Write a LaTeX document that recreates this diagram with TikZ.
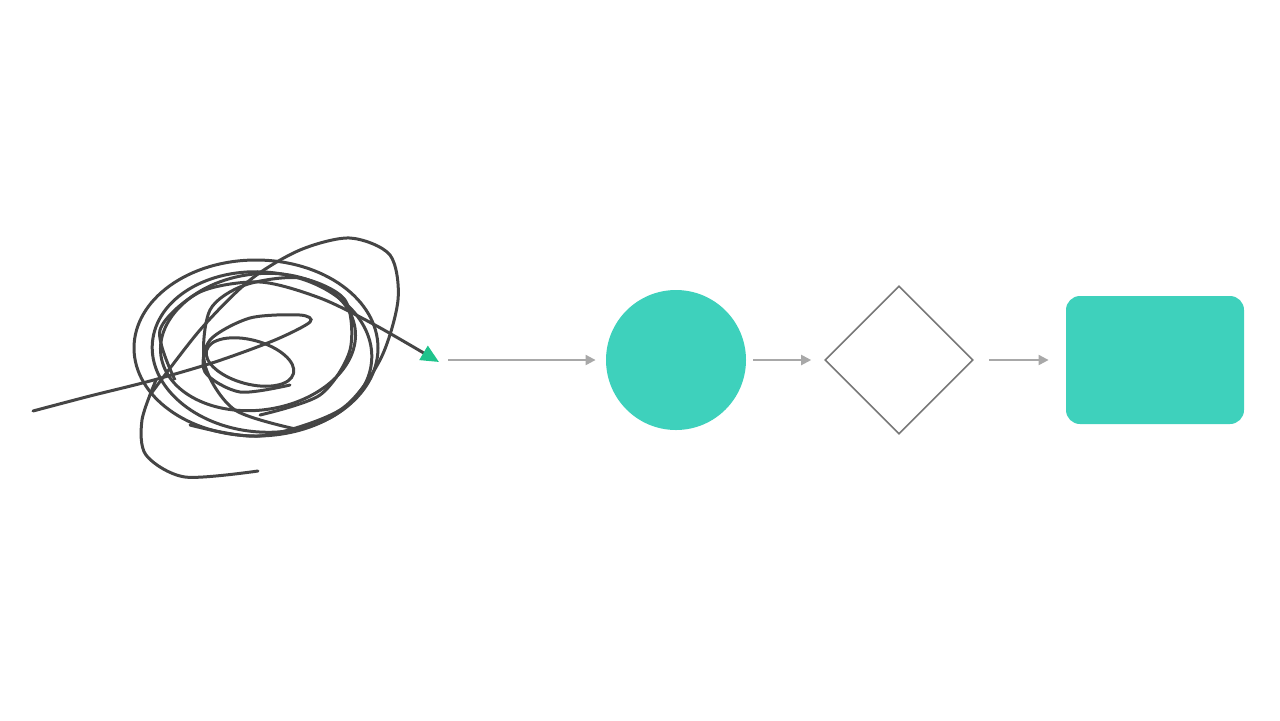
\documentclass[tikz,border=0pt]{standalone}
\usetikzlibrary{arrows.meta}
\usetikzlibrary{shapes}
\definecolor{tealfill}{HTML}{3ED1BC}
\definecolor{tipgreen}{HTML}{1FC38C}
\definecolor{inkgray}{HTML}{454545}
\definecolor{flowgray}{HTML}{A8A8A8}
\definecolor{rimgray}{HTML}{777777}

\begin{document}
\begin{tikzpicture}[x = 0.5pt, y = -0.5pt]
\tikzset{scribbleStyle/.style = {draw = inkgray, line width = 1.5pt, line cap = round}}
\tikzset{flowStyle/.style = {draw = flowgray, line width = 1pt, -{Triangle[length = 5pt, width = 5pt]}}}
\tikzset{circleStyle/.style = {shape = circle, fill = tealfill, minimum size = 70pt, inner sep = 0pt}}
\tikzset{decisionStyle/.style = {shape = diamond, draw = rimgray, line width = 0.8pt, minimum width = 74pt, minimum height = 74pt, inner sep = 0pt}}
\tikzset{boxStyle/.style = {shape = rectangle, fill = tealfill, rounded corners = 7pt, minimum width = 89pt, minimum height = 64pt, inner sep = 0pt}}
\useasboundingbox (0, 0) rectangle (1280, 720);
% scribble
\draw[scribbleStyle] plot[smooth] coordinates {(33, 411) (90, 396) (150, 381) (215, 362) (275, 340) (310, 322) (300, 315) (250, 318) (210, 340) (205, 372) (240, 392) (290, 385)};
\draw[scribbleStyle] (256, 348) ellipse [x radius = 122, y radius = 88];
\draw[scribbleStyle, rotate around = {-5:(262, 352)}] (262, 352) ellipse [x radius = 110, y radius = 80];
\draw[scribbleStyle, rotate around = {8:(258, 342)}] (258, 342) ellipse [x radius = 98, y radius = 68];
\draw[scribbleStyle, rotate around = {-15:(250, 362)}] (250, 362) ellipse [x radius = 45, y radius = 22];
\draw[scribbleStyle] plot[smooth] coordinates {(150, 395) (200, 330) (250, 280) (300, 250) (350, 238) (390, 255) (398, 300) (380, 360) (340, 410) (260, 436) (190, 425)};
\draw[scribbleStyle] plot[smooth] coordinates {(156, 380) (142, 420) (146, 455) (185, 477) (258, 471)};
\draw[scribbleStyle] plot[smooth] coordinates {(300, 430) (235, 410) (205, 365) (210, 310) (245, 285) (300, 278) (345, 300) (350, 350) (320, 395) (260, 415)};
\draw[scribbleStyle, line cap = butt, -{Triangle[length = 9pt, width = 8pt, color = tipgreen]}] plot[smooth] coordinates {(175, 380) (160, 330) (200, 292) (260, 282) (320, 298) (375, 325) (439, 362)};
% flow
\coordinate (scribbleend) at (448, 360);
\node[circleStyle] (circ) at (676, 360) {};
\node[decisionStyle] (decide) at (899, 360) {};
\node[boxStyle] (result) at (1155, 360) {};
\draw[flowStyle, shorten > = 5pt] (scribbleend) -- (circ.west);
\draw[flowStyle, shorten < = 3.5pt, shorten > = 6.5pt] (circ.east) -- (decide.west);
\draw[flowStyle, shorten < = 7.5pt, shorten > = 8.5pt] (decide.east) -- (result.west);
\end{tikzpicture}
\end{document}
